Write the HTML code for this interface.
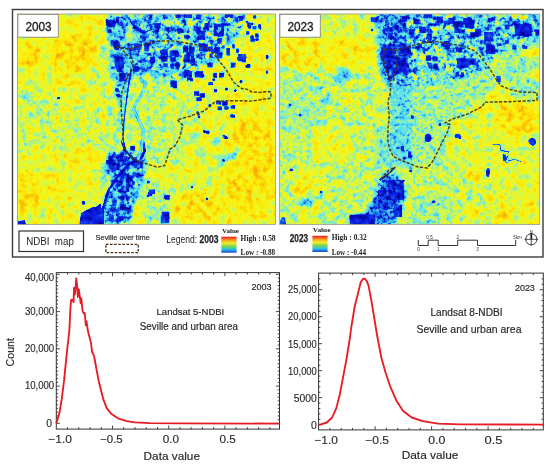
<!DOCTYPE html>
<html><head><meta charset="utf-8">
<style>
html,body{margin:0;padding:0;background:#fff;width:550px;height:467px;overflow:hidden}
svg{display:block}
.sans{font-family:"Liberation Sans",Arial,sans-serif}
.serif{font-family:"Liberation Serif","Times New Roman",serif}
</style></head><body>
<svg width="550" height="467" viewBox="0 0 550 467">
<defs>
<filter id="jetL" filterUnits="userSpaceOnUse" x="17" y="14" width="259" height="211" color-interpolation-filters="sRGB">
  <feColorMatrix in="SourceGraphic" type="matrix" values="1 0 0 0 0  1 0 0 0 0  1 0 0 0 0  0 0 0 0 1" result="base"/>
  <feColorMatrix in="SourceGraphic" type="matrix" values="0 1 0 0 0  0 1 0 0 0  0 1 0 0 0  0 0 0 0 1" result="ampL"/>
  <feColorMatrix in="SourceGraphic" type="matrix" values="0 0 1 0 0  0 0 1 0 0  0 0 1 0 0  0 0 0 0 1" result="ampH"/>
  <feTurbulence type="fractalNoise" baseFrequency="0.15" numOctaves="3" seed="3" result="t1"/>
  <feColorMatrix in="t1" type="matrix" values="1 0 0 0 0  1 0 0 0 0  1 0 0 0 0  0 0 0 0 1" result="n1"/>
  <feTurbulence type="fractalNoise" baseFrequency="0.3" numOctaves="2" seed="14" result="t2"/>
  <feColorMatrix in="t2" type="matrix" values="1 0 0 0 0  1 0 0 0 0  1 0 0 0 0  0 0 0 0 1" result="n2"/>
  <feComposite in="ampL" in2="n1" operator="arithmetic" k1="1.3" k2="-0.65" k3="0" k4="0.5" result="mod1"/>
  <feComposite in="ampH" in2="n2" operator="arithmetic" k1="1.6" k2="-0.8" k3="0" k4="0.5" result="mod2r"/>
  <feComponentTransfer in="mod2r" result="mod2"><feFuncR type="table" tableValues="0 0.5 0.56"/><feFuncG type="table" tableValues="0 0.5 0.56"/><feFuncB type="table" tableValues="0 0.5 0.56"/></feComponentTransfer>
  <feComposite in="base" in2="mod1" operator="arithmetic" k1="0" k2="1" k3="1" k4="-0.5" result="s1"/>
  <feComposite in="s1" in2="mod2" operator="arithmetic" k1="0" k2="1" k3="1" k4="-0.5" result="sum"/>
  <feGaussianBlur in="sum" stdDeviation="0.4" result="sb"/>
  <feComponentTransfer in="sb">
    <feFuncR type="table" tableValues="0.020 0.031 0.039 0.059 0.078 0.118 0.235 0.314 0.373 0.529 0.706 0.855 0.965 0.988 0.988 0.980 0.973 0.941 0.902 0.784 0.588"/>
    <feFuncG type="table" tableValues="0.039 0.059 0.098 0.176 0.294 0.471 0.725 0.843 0.894 0.933 0.953 0.973 0.965 0.918 0.831 0.729 0.612 0.451 0.235 0.078 0.000"/>
    <feFuncB type="table" tableValues="0.588 0.745 0.863 0.894 0.910 0.925 0.933 0.933 0.925 0.765 0.471 0.255 0.086 0.039 0.020 0.020 0.020 0.031 0.039 0.020 0.000"/>
  </feComponentTransfer>
</filter>
<filter id="jetR" filterUnits="userSpaceOnUse" x="279" y="14" width="261" height="211" color-interpolation-filters="sRGB">
  <feColorMatrix in="SourceGraphic" type="matrix" values="1 0 0 0 0  1 0 0 0 0  1 0 0 0 0  0 0 0 0 1" result="base"/>
  <feColorMatrix in="SourceGraphic" type="matrix" values="0 1 0 0 0  0 1 0 0 0  0 1 0 0 0  0 0 0 0 1" result="ampL"/>
  <feColorMatrix in="SourceGraphic" type="matrix" values="0 0 1 0 0  0 0 1 0 0  0 0 1 0 0  0 0 0 0 1" result="ampH"/>
  <feTurbulence type="fractalNoise" baseFrequency="0.15" numOctaves="3" seed="7" result="t1"/>
  <feColorMatrix in="t1" type="matrix" values="1 0 0 0 0  1 0 0 0 0  1 0 0 0 0  0 0 0 0 1" result="n1"/>
  <feTurbulence type="fractalNoise" baseFrequency="0.3" numOctaves="2" seed="18" result="t2"/>
  <feColorMatrix in="t2" type="matrix" values="1 0 0 0 0  1 0 0 0 0  1 0 0 0 0  0 0 0 0 1" result="n2"/>
  <feComposite in="ampL" in2="n1" operator="arithmetic" k1="1.3" k2="-0.65" k3="0" k4="0.5" result="mod1"/>
  <feComposite in="ampH" in2="n2" operator="arithmetic" k1="1.6" k2="-0.8" k3="0" k4="0.5" result="mod2r"/>
  <feComponentTransfer in="mod2r" result="mod2"><feFuncR type="table" tableValues="0 0.5 0.56"/><feFuncG type="table" tableValues="0 0.5 0.56"/><feFuncB type="table" tableValues="0 0.5 0.56"/></feComponentTransfer>
  <feComposite in="base" in2="mod1" operator="arithmetic" k1="0" k2="1" k3="1" k4="-0.5" result="s1"/>
  <feComposite in="s1" in2="mod2" operator="arithmetic" k1="0" k2="1" k3="1" k4="-0.5" result="sum"/>
  <feGaussianBlur in="sum" stdDeviation="0.4" result="sb"/>
  <feComponentTransfer in="sb">
    <feFuncR type="table" tableValues="0.020 0.031 0.039 0.059 0.078 0.118 0.235 0.314 0.373 0.529 0.706 0.855 0.965 0.988 0.988 0.980 0.973 0.941 0.902 0.784 0.588"/>
    <feFuncG type="table" tableValues="0.039 0.059 0.098 0.176 0.294 0.471 0.725 0.843 0.894 0.933 0.953 0.973 0.965 0.918 0.831 0.729 0.612 0.451 0.235 0.078 0.000"/>
    <feFuncB type="table" tableValues="0.588 0.745 0.863 0.894 0.910 0.925 0.933 0.933 0.925 0.765 0.471 0.255 0.086 0.039 0.020 0.020 0.020 0.031 0.039 0.020 0.000"/>
  </feComponentTransfer>
</filter>
<filter id="softblur" x="-20%" y="-20%" width="140%" height="140%" color-interpolation-filters="sRGB"><feGaussianBlur stdDeviation="2.2"/></filter>
<filter id="sharpblur" x="-20%" y="-20%" width="140%" height="140%" color-interpolation-filters="sRGB">
  <feTurbulence type="fractalNoise" baseFrequency="0.12" numOctaves="1" seed="5" result="dn"/>
  <feDisplacementMap in="SourceGraphic" in2="dn" scale="2.5" xChannelSelector="R" yChannelSelector="G" result="dm"/>
  <feGaussianBlur in="dm" stdDeviation="0.35"/>
</filter>
<clipPath id="clipL"><rect x="17.5" y="14" width="258" height="210.5"/></clipPath>
<clipPath id="clipR"><rect x="279.5" y="14" width="260.2" height="210.5"/></clipPath>
<linearGradient id="cbar" x1="0" y1="0" x2="0" y2="1">
  <stop offset="0" stop-color="#e8141c"/>
  <stop offset="0.2" stop-color="#f7941d"/>
  <stop offset="0.4" stop-color="#f5ee2a"/>
  <stop offset="0.6" stop-color="#7fd34e"/>
  <stop offset="0.78" stop-color="#29c5e6"/>
  <stop offset="1" stop-color="#1c3fd6"/>
</linearGradient>
</defs>

<rect x="12.5" y="9.5" width="530.5" height="247.5" fill="#fff" stroke="#3a3a3a" stroke-width="1.4"/>

<g clip-path="url(#clipL)">
<g filter="url(#jetL)">
<rect x="17" y="14" width="259" height="211" fill="rgb(148,76,10)"/>
<g filter="url(#softblur)">
<path d="M55 32 L97 27 L107 42 L105 67 L97 87 L72 92 L55 84 L47 62 L50 42Z" fill="rgb(156,76,19)"/>
<path d="M17 37 L47 37 L47 62 L35 70 L17 65Z" fill="rgb(153,76,19)"/>
<path d="M60 14 L105 14 L105 27 L60 30Z" fill="rgb(153,76,19)"/>
<path d="M17 87 L45 89 L65 102 L90 107 L110 100 L122 110 L122 150 L100 150 L60 150 L17 150Z" fill="rgb(142,76,57)"/>
<path d="M88 45 L108 40 L112 75 L118 100 L100 100 L88 90Z" fill="rgb(142,76,51)"/>
<path d="M90 137 L120 137 L118 187 L100 190 L90 170Z" fill="rgb(138,76,70)"/>
<ellipse cx="27" cy="178" rx="10" ry="7" fill="rgb(160,76,19)"/>
<ellipse cx="23" cy="210" rx="8" ry="9" fill="rgb(162,76,19)"/>
<ellipse cx="52" cy="180" rx="13" ry="7" fill="rgb(157,76,19)"/>
<ellipse cx="60" cy="200" rx="15" ry="10" fill="rgb(155,76,19)"/>
<path d="M126 80 L150 78 L170 82 L175 120 L178 140 L165 160 L130 158 L124 130 L125 100Z" fill="rgb(138,76,64)"/>
<ellipse cx="152" cy="85" rx="8" ry="6" fill="rgb(115,51,89)"/>
<ellipse cx="163" cy="135" rx="6" ry="4" fill="rgb(115,51,89)"/>
<ellipse cx="147" cy="100" rx="4" ry="6" fill="rgb(115,51,89)"/>
<path d="M145 82 L195 88 L200 110 L195 128 L145 128Z" fill="rgb(139,76,64)"/>
<path d="M245 40 L276 40 L276 128 L235 128 L230 100 L240 80Z" fill="rgb(154,76,19)"/>
<path d="M220 130 L276 120 L276 225 L220 225Z" fill="rgb(155,76,19)"/>
<path d="M182 195 L220 195 L220 225 L182 225Z" fill="rgb(155,76,19)"/>
<path d="M145 119 L182 119 L185 150 L175 165 L145 165Z" fill="rgb(136,76,73)"/>
<path d="M170 180 L212 180 L212 203 L170 203Z" fill="rgb(138,76,77)"/>
<ellipse cx="22" cy="150" rx="4" ry="3" fill="rgb(107,51,89)"/>
<ellipse cx="40" cy="112" rx="6" ry="4" fill="rgb(115,51,89)"/>
<ellipse cx="27" cy="95" rx="5" ry="6" fill="rgb(115,51,89)"/>
<ellipse cx="76" cy="52" rx="22" ry="18" fill="rgb(170,76,19)"/>
<ellipse cx="30" cy="55" rx="13" ry="12" fill="rgb(166,76,19)"/>
<ellipse cx="28" cy="195" rx="12" ry="16" fill="rgb(170,76,19)"/>
<ellipse cx="250" cy="165" rx="26" ry="50" fill="rgb(168,76,19)"/>
<ellipse cx="197" cy="205" rx="22" ry="18" fill="rgb(166,76,19)"/>
<ellipse cx="86" cy="158" rx="22" ry="10" fill="rgb(162,76,19)"/>
<ellipse cx="85" cy="20" rx="17" ry="6" fill="rgb(164,76,19)"/>
<ellipse cx="230" cy="157" rx="6" ry="5" fill="rgb(102,51,89)"/>
<ellipse cx="222" cy="163" rx="4" ry="6" fill="rgb(102,51,89)"/>
<ellipse cx="195" cy="136" rx="6" ry="3" fill="rgb(102,51,89)"/>
<ellipse cx="202" cy="152" rx="4" ry="3" fill="rgb(107,51,89)"/>
<ellipse cx="236" cy="152" rx="3" ry="6" fill="rgb(107,51,89)"/>
<ellipse cx="218" cy="140" rx="3" ry="8" fill="rgb(112,51,89)" transform="rotate(40 218 140)"/>
<path d="M106 14 L160 14 L160 78 L152 74 L140 74 L132 77 L127 87 L124.6 99 L123.3 128 L119.6 128 L118.4 107 L116 87 L111 72 L109.6 57 L108.4 37 L104.7 24.5Z" fill="rgb(88,128,145)"/>
<path d="M160 14 L245 14 L245 22 L235 40 L225 45 L215 62 L200 65 L195 72 L180 80 L165 80 L160 78Z" fill="rgb(102,178,145)"/>
<ellipse cx="130" cy="37" rx="5" ry="5" fill="rgb(133,76,57)"/>
<ellipse cx="248" cy="30" rx="6" ry="10" fill="rgb(148,76,25)"/>
<path d="M108 153 L120 150 L132 150 L140 156 L146 160 L145 175 L141 186 L137 198 L132 213 L128 225 L102.8 225 L102.8 209 L108.3 191 L112 183 L106 178 L105 168Z" fill="rgb(76,153,164)"/>
<path d="M145 177 L160 180 L170 200 L172 225 L145 225Z" fill="rgb(133,51,89)"/>
</g>
<g filter="url(#sharpblur)">
<path d="M105.8 20 L112 19.8 L116 22 L115 27 L110 27.5 L106 25Z" fill="rgb(26,76,10)"/>
<rect x="108.9" y="28.9" width="2.6" height="3.9" fill="rgb(26,76,10)"/>
<rect x="116.2" y="17.3" width="2.6" height="5" fill="rgb(26,76,10)"/>
<ellipse cx="116.7" cy="45.2" rx="3.7" ry="5.2" fill="rgb(26,76,10)"/>
<path d="M114.6 56.3 L123.3 57 L124 66 L123 72.3 L117 72 L114.6 64Z" fill="rgb(26,76,10)"/>
<rect x="119.4" y="72.9" width="6.2" height="8.5" fill="rgb(26,76,10)"/>
<rect x="132.8" y="66.1" width="5.6" height="5.5" fill="rgb(26,76,10)"/>
<rect x="134" y="43.4" width="7.7" height="6.5" fill="rgb(43,51,89)"/>
<rect x="144.1" y="43.5" width="5.2" height="7.9" fill="rgb(26,76,10)"/>
<rect x="149.9" y="56.7" width="5.1" height="6.4" fill="rgb(26,76,10)"/>
<rect x="161.4" y="49.4" width="6.2" height="5.3" fill="rgb(26,76,10)"/>
<rect x="169.4" y="50.4" width="6.2" height="6.2" fill="rgb(26,76,10)"/>
<rect x="162.4" y="56.4" width="5.3" height="5.3" fill="rgb(26,76,10)"/>
<rect x="170.4" y="57.3" width="5.3" height="4.4" fill="rgb(26,76,10)"/>
<rect x="163.3" y="63.2" width="4.4" height="3.5" fill="rgb(26,76,10)"/>
<rect x="170.2" y="64.3" width="3.5" height="4.4" fill="rgb(26,76,10)"/>
<rect x="176.2" y="62.4" width="3.5" height="5.3" fill="rgb(26,76,10)"/>
<rect x="154.4" y="23.1" width="6.2" height="5.2" fill="rgb(26,76,10)"/>
<ellipse cx="117" cy="90" rx="2" ry="2" fill="rgb(26,76,10)"/>
<ellipse cx="118.5" cy="95.5" rx="2" ry="2" fill="rgb(26,76,10)"/>
<path d="M129 19.8 L134 26 L138 30 L143.7 33 L149.6 30 L152 27" fill="none" stroke="rgb(26,76,0)" stroke-width="1.6" stroke-linejoin="round" stroke-linecap="round"/>
<rect x="175.3" y="14.3" width="5.1" height="3.9" fill="rgb(26,76,10)"/>
<rect x="184.2" y="14.3" width="7.7" height="3.9" fill="rgb(26,76,10)"/>
<rect x="195.7" y="14.3" width="5.1" height="5.1" fill="rgb(26,76,10)"/>
<rect x="204.3" y="23.1" width="4" height="6.4" fill="rgb(26,76,10)"/>
<rect x="213.7" y="23.6" width="10.2" height="12.8" fill="rgb(26,76,10)"/>
<ellipse cx="219" cy="30" rx="2.5" ry="3" fill="rgb(97,76,57)"/>
<rect x="225.1" y="14.3" width="7.7" height="3.9" fill="rgb(26,76,10)"/>
<rect x="238" y="15.8" width="5.1" height="5.1" fill="rgb(26,76,10)"/>
<rect x="176.9" y="28.9" width="6.3" height="3.9" fill="rgb(26,76,10)"/>
<rect x="184.1" y="34.7" width="5.2" height="3.9" fill="rgb(26,76,10)"/>
<rect x="197.4" y="30.6" width="7.7" height="9" fill="rgb(43,51,89)"/>
<rect x="182.7" y="46.5" width="5.3" height="7" fill="rgb(26,76,10)"/>
<rect x="189.4" y="47.4" width="5.3" height="6.2" fill="rgb(26,76,10)"/>
<rect x="183.4" y="55.5" width="6.2" height="7" fill="rgb(26,76,10)"/>
<rect x="190.8" y="55.5" width="4.4" height="7" fill="rgb(26,76,10)"/>
<rect x="198.9" y="43.5" width="9" height="7.9" fill="rgb(26,76,10)"/>
<rect x="207.4" y="46.4" width="5.3" height="5.3" fill="rgb(26,76,10)"/>
<rect x="214.4" y="47.4" width="5.3" height="5.3" fill="rgb(26,76,10)"/>
<rect x="209.3" y="53.3" width="4.4" height="4.4" fill="rgb(26,76,10)"/>
<rect x="216.2" y="52.4" width="6.3" height="6.3" fill="rgb(26,76,10)"/>
<rect x="175.3" y="50.8" width="3.9" height="6.4" fill="rgb(26,76,10)"/>
<rect x="184.2" y="69.9" width="7.7" height="7.7" fill="rgb(26,76,10)"/>
<rect x="194.6" y="71.2" width="8.8" height="6.4" fill="rgb(26,76,10)"/>
<rect x="207.4" y="62.4" width="5.3" height="5.3" fill="rgb(26,76,10)"/>
<rect x="226.3" y="48" width="3.9" height="7.7" fill="rgb(26,76,10)"/>
<rect x="238.2" y="53.9" width="7.7" height="7.6" fill="rgb(26,76,10)"/>
<rect x="230.7" y="62.4" width="5.1" height="5.3" fill="rgb(26,76,10)"/>
<rect x="245.3" y="63.9" width="5.1" height="3.9" fill="rgb(26,76,10)"/>
<ellipse cx="247" cy="22" rx="1.5" ry="1.5" fill="rgb(26,76,10)"/>
<ellipse cx="252" cy="24" rx="1.5" ry="1.5" fill="rgb(26,76,10)"/>
<ellipse cx="254.6" cy="17" rx="2" ry="2" fill="rgb(26,76,10)"/>
<ellipse cx="259.6" cy="27" rx="2" ry="2" fill="rgb(26,76,10)"/>
<ellipse cx="249.6" cy="27" rx="2" ry="2" fill="rgb(26,76,10)"/>
<ellipse cx="252" cy="37" rx="2" ry="2" fill="rgb(26,76,10)"/>
<ellipse cx="257" cy="39.4" rx="2" ry="1.5" fill="rgb(26,76,10)"/>
<rect x="213.3" y="72.6" width="3.8" height="5.1" fill="rgb(26,76,10)"/>
<rect x="219.1" y="72.6" width="5.2" height="5.1" fill="rgb(26,76,10)"/>
<rect x="247.2" y="22.3" width="3.5" height="4.4" fill="rgb(26,76,10)"/>
<rect x="252.3" y="26.2" width="4.4" height="3.5" fill="rgb(26,76,10)"/>
<rect x="246.2" y="31.2" width="3.5" height="3.5" fill="rgb(26,76,10)"/>
<rect x="255.2" y="33.3" width="3.5" height="4.4" fill="rgb(26,76,10)"/>
<rect x="250.3" y="38.2" width="4.4" height="3.5" fill="rgb(26,76,10)"/>
<rect x="258.2" y="24.2" width="2.6" height="3.5" fill="rgb(26,76,10)"/>
<rect x="232.2" y="44.3" width="2.6" height="4.4" fill="rgb(26,76,10)"/>
<rect x="236.2" y="48.3" width="2.6" height="4.4" fill="rgb(26,76,10)"/>
<rect x="196.4" y="26.5" width="5.3" height="7" fill="rgb(26,76,10)"/>
<rect x="199.3" y="35.3" width="4.4" height="4.4" fill="rgb(26,76,10)"/>
<rect x="217.3" y="38.4" width="4.4" height="5.3" fill="rgb(26,76,10)"/>
<rect x="221.2" y="44.3" width="3.5" height="4.4" fill="rgb(26,76,10)"/>
<ellipse cx="267" cy="57" rx="1.5" ry="2.5" fill="rgb(26,76,10)"/>
<ellipse cx="267" cy="72" rx="1.5" ry="2" fill="rgb(26,76,10)"/>
<rect x="170.4" y="80.4" width="6.4" height="8.1" fill="rgb(26,76,10)"/>
<rect x="186.8" y="78.2" width="6.3" height="3.2" fill="rgb(26,76,10)"/>
<rect x="194" y="91.3" width="5.3" height="4.4" fill="rgb(26,76,10)"/>
<rect x="199.4" y="93.3" width="5.3" height="4.4" fill="rgb(26,76,10)"/>
<rect x="196.4" y="97.3" width="5.3" height="4" fill="rgb(26,76,10)"/>
<rect x="208.3" y="81.8" width="4.9" height="3.3" fill="rgb(26,76,10)"/>
<rect x="213.8" y="89.2" width="3.3" height="3.1" fill="rgb(26,76,10)"/>
<rect x="215.9" y="100.3" width="5.3" height="4.4" fill="rgb(26,76,10)"/>
<rect x="222.4" y="101.3" width="5.3" height="4.4" fill="rgb(26,76,10)"/>
<rect x="217.3" y="106.3" width="4.4" height="4.1" fill="rgb(26,76,10)"/>
<rect x="224.3" y="106.2" width="4.4" height="3.5" fill="rgb(26,76,10)"/>
<rect x="230.3" y="105.2" width="4.8" height="3.5" fill="rgb(26,76,10)"/>
<rect x="230.3" y="114.6" width="4.8" height="3.2" fill="rgb(26,76,10)"/>
<ellipse cx="226.4" cy="89" rx="1.5" ry="1.5" fill="rgb(26,76,10)"/>
<ellipse cx="235.5" cy="90.7" rx="1.5" ry="1.5" fill="rgb(26,76,10)"/>
<ellipse cx="241" cy="81.6" rx="1.5" ry="1.5" fill="rgb(26,76,10)"/>
<ellipse cx="210" cy="105.3" rx="1.5" ry="1.5" fill="rgb(26,76,10)"/>
<ellipse cx="197.3" cy="112.5" rx="1.5" ry="1.5" fill="rgb(26,76,10)"/>
<ellipse cx="199" cy="117" rx="1.5" ry="1.5" fill="rgb(26,76,10)"/>
<ellipse cx="208.2" cy="132.5" rx="1.5" ry="2" fill="rgb(26,76,10)"/>
<ellipse cx="213.6" cy="79.8" rx="1.5" ry="1.5" fill="rgb(26,76,10)"/>
<ellipse cx="206" cy="132" rx="3" ry="1.5" fill="rgb(26,76,10)" transform="rotate(30 206 132)"/>
<ellipse cx="224.7" cy="137" rx="3" ry="1.5" fill="rgb(26,76,10)" transform="rotate(40 224.7 137)"/>
<ellipse cx="232" cy="115.7" rx="2" ry="1.5" fill="rgb(26,76,10)"/>
<ellipse cx="198.5" cy="114.5" rx="1.5" ry="1.5" fill="rgb(26,76,10)"/>
<ellipse cx="223.5" cy="160.6" rx="1.5" ry="1.5" fill="rgb(26,76,10)"/>
<ellipse cx="207" cy="199" rx="1.5" ry="1.5" fill="rgb(26,76,10)"/>
<ellipse cx="192" cy="187" rx="1.2" ry="1.2" fill="rgb(26,76,10)"/>
<ellipse cx="58.6" cy="97.9" rx="1.5" ry="1.2" fill="rgb(26,76,10)"/>
<ellipse cx="83.5" cy="203" rx="2" ry="2" fill="rgb(26,76,10)"/>
<rect x="160.6" y="216.5" width="8.8" height="7" fill="rgb(26,76,10)"/>
<ellipse cx="165" cy="196.7" rx="2" ry="2" fill="rgb(26,76,10)"/>
<ellipse cx="150" cy="194" rx="2.5" ry="2.5" fill="rgb(26,76,10)"/>
<path d="M79 225 L81 212.9 L88.2 209.2 L95.5 205.6 L101 203.8 L102.8 225Z" fill="rgb(26,76,10)"/>
<path d="M17.5 221 L25 220 L26 225 L17.5 225Z" fill="rgb(26,76,10)"/>
<path d="M109 156 L122 154 L128 160 L122 166 L114 172 L109 168Z" fill="rgb(38,102,145)"/>
<path d="M118 182 L128 178 L131 186 L124 192 L116 192Z" fill="rgb(51,128,164)"/>
<rect x="112.3" y="200.4" width="4.4" height="5.3" fill="rgb(26,76,10)"/>
<rect x="120.3" y="205.3" width="4.4" height="4.4" fill="rgb(26,76,10)"/>
<rect x="109.3" y="214.4" width="4.4" height="5.3" fill="rgb(26,76,10)"/>
<rect x="118.4" y="216.3" width="5.3" height="4.4" fill="rgb(26,76,10)"/>
<rect x="126.2" y="196.3" width="3.5" height="4.4" fill="rgb(26,76,10)"/>
<rect x="106.2" y="160.2" width="3.5" height="3.5" fill="rgb(26,76,10)"/>
<rect x="124.2" y="156.2" width="3.5" height="2.6" fill="rgb(26,76,10)"/>
<rect x="132.2" y="181.2" width="2.6" height="3.5" fill="rgb(26,76,10)"/>
<rect x="130.3" y="145.8" width="4.9" height="4.8" fill="rgb(26,76,10)"/>
<rect x="148.7" y="189.3" width="6.4" height="4.9" fill="rgb(43,51,89)"/>
<rect x="165" y="194.9" width="4.7" height="4.8" fill="rgb(26,76,10)"/>
<rect x="161.5" y="211.5" width="7.9" height="7.9" fill="rgb(26,76,10)"/>
<ellipse cx="148.3" cy="181.9" rx="1.5" ry="1.5" fill="rgb(26,76,10)"/>
<path d="M142.9 140 L144.7 151 L141 158.2 L130 163.7 L117.4 176.4 L108.3 191 L102.8 209.2 L102.8 225" fill="none" stroke="rgb(20,76,0)" stroke-width="2.6" stroke-linejoin="round" stroke-linecap="round"/>
<path d="M121 140 L124.6 151 L133.8 158.2 L142.9 156.4 L144.7 147.3 L142.9 140" fill="none" stroke="rgb(26,76,0)" stroke-width="1.2" stroke-linejoin="round" stroke-linecap="round"/>
<path d="M131.2 69.4 L127.7 90.6 L124.1 118.9 L123 137.7 L125.3 149.5 L133.6 161.3" fill="none" stroke="rgb(31,76,0)" stroke-width="1.4" stroke-linejoin="round" stroke-linecap="round"/>
<path d="M140.6 78.8 L145.3 83.6 L143 93 L136 102.4 L133.6 109.5 L138.3 118.9 L143 128.3 L143 137.7 L140.6 149.5 L138.3 159" fill="none" stroke="rgb(76,76,25)" stroke-width="3.2" stroke-linejoin="round" stroke-linecap="round"/>
<path d="M140.6 78.8 L145.3 83.6 L143 93 L136 102.4 L133.6 109.5 L138.3 118.9 L143 128.3 L143 137.7 L140.6 149.5 L138.3 159" fill="none" stroke="rgb(107,76,25)" stroke-width="1.8" stroke-linejoin="round" stroke-linecap="round"/>
</g>
</g>
<path d="M116 47 L129 49 L143.7 44.6 L158 41 L175 41 L186.7 43.2 L198.3 45.3 L208.5 49 L214.4 54.8 L220.2 62.1 L226 69.4 L230.4 76.7 L233.3 82 L237.3 85.3 L242 88.7 L246.6 89.1 L251.7 92 L259 92.4 L269.2 91.6 L271 92 L271 97.8 L269.2 98.5 L262.6 99.3 L256.8 100.4 L249.5 101.1 L242.3 100.7 L228.2 100.7 L215.5 101.6 L204.5 110.7 L190 116.2 L177.3 119.8 L182.7 125.3 L179.9 136.9 L174.9 146 L170 149.1 L168.4 154.6 L164.7 165.5 L157.4 167.3 L146.5 163.7 L139.2 161.9 L132 158.2 L124.6 149.1 L122.8 140 L122.9 128.2 L121.3 111.8 L121 98 L122.1 91.4 L124.7 83.7 L127.3 77.3 L131 70.8 L133.7 65.7 L132.4 59.3 L127.3 55.4 L121 48 L116 47" fill="none" stroke="#4a2f0e" stroke-width="1.45" stroke-dasharray="3.2 1.5" stroke-linejoin="round" opacity="0.92"/>
</g>
<g clip-path="url(#clipR)">
<g filter="url(#jetR)">
<rect x="279" y="14" width="261" height="211" fill="rgb(142,76,57)"/>
<g filter="url(#softblur)">
<path d="M280 37 L376 37 L376 67 L330 70 L280 62Z" fill="rgb(156,76,19)"/>
<ellipse cx="295" cy="47" rx="14" ry="9" fill="rgb(160,76,19)"/>
<ellipse cx="353" cy="56" rx="8" ry="3" fill="rgb(162,76,19)"/>
<path d="M321 16 L376 16 L376 37 L321 37Z" fill="rgb(143,76,57)"/>
<path d="M280 62 L326 65 L330 100 L326 128 L280 128Z" fill="rgb(133,76,80)"/>
<path d="M280 104 L326 104 L326 128 L280 128Z" fill="rgb(128,51,89)"/>
<path d="M326 74 L376 74 L376 128 L326 128Z" fill="rgb(139,76,77)"/>
<path d="M500 37 L541 37 L541 100 L505 100 L500 70Z" fill="rgb(125,51,105)"/>
<ellipse cx="532" cy="53" rx="9" ry="5" fill="rgb(162,76,19)"/>
<ellipse cx="537" cy="75" rx="5" ry="5" fill="rgb(165,76,19)"/>
<path d="M410 74 L460 74 L460 128 L410 128Z" fill="rgb(128,51,105)"/>
<path d="M460 82 L510 82 L510 128 L460 128Z" fill="rgb(152,76,25)"/>
<ellipse cx="469" cy="85" rx="7" ry="3" fill="rgb(162,76,19)"/>
<ellipse cx="471" cy="95" rx="4" ry="3" fill="rgb(162,76,19)"/>
<ellipse cx="507" cy="104" rx="8" ry="7" fill="rgb(162,76,19)"/>
<path d="M510 100 L541 100 L541 128 L510 128Z" fill="rgb(148,76,57)"/>
<path d="M280 128 L376 128 L376 228 L280 228Z" fill="rgb(136,76,77)"/>
<ellipse cx="344" cy="74" rx="5" ry="7" fill="rgb(76,51,89)"/>
<ellipse cx="339" cy="80" rx="3" ry="4" fill="rgb(82,51,89)"/>
<ellipse cx="327" cy="100" rx="4" ry="4" fill="rgb(87,51,89)"/>
<ellipse cx="318" cy="88" rx="3" ry="2" fill="rgb(92,51,89)"/>
<path d="M313 127 L351 127 L351 162 L313 162Z" fill="rgb(148,76,25)"/>
<path d="M291 169 L326 169 L326 192 L291 192Z" fill="rgb(152,76,25)"/>
<path d="M301 204 L316 204 L316 222 L301 222Z" fill="rgb(152,76,25)"/>
<ellipse cx="308" cy="185" rx="5" ry="4" fill="rgb(162,76,19)"/>
<ellipse cx="337" cy="158" rx="4" ry="4" fill="rgb(160,76,19)"/>
<ellipse cx="363" cy="159" rx="3" ry="3" fill="rgb(160,76,19)"/>
<ellipse cx="307" cy="202" rx="6" ry="5" fill="rgb(92,51,105)"/>
<path d="M375.6 127 L413 127 L413 157 L375.6 157Z" fill="rgb(128,51,105)"/>
<path d="M377 140 L395 140 L395 167 L377 167Z" fill="rgb(112,51,89)"/>
<path d="M410 112 L541 112 L541 228 L410 228Z" fill="rgb(147,76,32)"/>
<path d="M410 112 L447 112 L447 172 L410 172Z" fill="rgb(128,51,105)"/>
<path d="M410 165 L490 165 L490 228 L410 228Z" fill="rgb(138,76,73)"/>
<path d="M410 197 L447 197 L447 228 L410 228Z" fill="rgb(128,51,105)"/>
<ellipse cx="476" cy="176" rx="9" ry="8" fill="rgb(162,76,19)"/>
<ellipse cx="517" cy="130" rx="8" ry="6" fill="rgb(162,76,19)"/>
<ellipse cx="505" cy="215" rx="6" ry="8" fill="rgb(163,76,19)"/>
<ellipse cx="473" cy="212" rx="7" ry="8" fill="rgb(160,76,19)"/>
<ellipse cx="302" cy="57" rx="22" ry="14" fill="rgb(162,76,19)"/>
<ellipse cx="350" cy="50" rx="22" ry="9" fill="rgb(161,76,19)"/>
<ellipse cx="518" cy="118" rx="22" ry="18" fill="rgb(169,76,19)"/>
<ellipse cx="475" cy="176" rx="8" ry="6" fill="rgb(169,76,19)"/>
<ellipse cx="505" cy="213" rx="8" ry="8" fill="rgb(169,76,19)"/>
<ellipse cx="490" cy="200" rx="6" ry="5" fill="rgb(164,76,19)"/>
<ellipse cx="530" cy="205" rx="6" ry="9" fill="rgb(166,76,19)"/>
<ellipse cx="470" cy="212" rx="7" ry="7" fill="rgb(166,76,19)"/>
<ellipse cx="321" cy="140" rx="12" ry="8" fill="rgb(151,76,25)"/>
<ellipse cx="348" cy="98" rx="5" ry="5" fill="rgb(154,76,25)"/>
<ellipse cx="300" cy="190" rx="8" ry="6" fill="rgb(166,76,19)"/>
<path d="M395 50 L480 50 L498 84 L470 110 L446 127 L436 156 L412 170 L395 165 L390 140 L393 100Z" fill="rgb(128,51,105)"/>
<path d="M391 74 L410 74 L412 170 L395 165 L390 140Z" fill="rgb(105,51,105)"/>
<path d="M376 14 L410 14 L410 87 L400 87 L388 87 L380.6 74 L375.6 52 L378 37Z" fill="rgb(82,128,145)"/>
<path d="M410 14 L541 14 L541 40 L520 40 L505 45 L495 60 L480 70 L460 78 L440 82 L420 85 L410 87Z" fill="rgb(99,178,145)"/>
<ellipse cx="374" cy="42" rx="5" ry="14" fill="rgb(148,76,25)"/>
<path d="M413 50 L450 50 L450 82 L413 82Z" fill="rgb(117,153,145)"/>
<path d="M380.5 180 L387 172 L396.9 176.4 L404.2 181.9 L406 194.6 L402.4 203.8 L396.9 216.5 L395.1 225 L349.6 225 L349.6 218.3 L364.1 212.9 L371.4 203.8 L376.9 191Z" fill="rgb(66,51,164)"/>
</g>
<g filter="url(#sharpblur)">
<rect x="370.5" y="17.3" width="7.7" height="5" fill="rgb(43,51,89)"/>
<path d="M383 18.4 L406.4 18.4 L406.4 43 L383 43Z" fill="rgb(69,128,145)"/>
<rect x="385.3" y="20.2" width="4.4" height="3.5" fill="rgb(26,76,10)"/>
<rect x="395.2" y="25.3" width="3.5" height="4.4" fill="rgb(26,76,10)"/>
<rect x="388.3" y="33.2" width="4.4" height="3.5" fill="rgb(26,76,10)"/>
<path d="M382 46 L390 43 L398 45 L405 42 L411 44 L411 55 L407 62 L411 70 L406 78 L398 74 L391 79 L386 72 L383 64 L380 56Z" fill="rgb(43,102,145)"/>
<rect x="386.4" y="48.4" width="6.2" height="5.3" fill="rgb(26,76,10)"/>
<rect x="395.7" y="60.7" width="10.6" height="10.6" fill="rgb(26,76,10)"/>
<rect x="400.5" y="47.4" width="7" height="5.3" fill="rgb(26,76,10)"/>
<rect x="425.8" y="55.4" width="5.3" height="5.3" fill="rgb(26,76,10)"/>
<rect x="432.4" y="56.4" width="5.3" height="5.3" fill="rgb(26,76,10)"/>
<rect x="427.4" y="62.4" width="5.3" height="6.2" fill="rgb(26,76,10)"/>
<rect x="433.3" y="63.4" width="4.4" height="5.3" fill="rgb(26,76,10)"/>
<rect x="427.2" y="39.1" width="3.8" height="3.7" fill="rgb(26,76,10)"/>
<rect x="443.4" y="42" width="6.2" height="5.1" fill="rgb(26,76,10)"/>
<rect x="452.7" y="21.4" width="10.8" height="6.2" fill="rgb(26,76,10)"/>
<rect x="475.2" y="28.5" width="6.2" height="7.7" fill="rgb(26,76,10)"/>
<rect x="484.2" y="32.1" width="9.2" height="9.2" fill="rgb(26,76,10)"/>
<rect x="486" y="44.5" width="9.2" height="10.8" fill="rgb(26,76,10)"/>
<rect x="489.3" y="17.7" width="6.2" height="3.1" fill="rgb(26,76,10)"/>
<rect x="514.6" y="23.6" width="17" height="12.3" fill="rgb(26,76,10)"/>
<rect x="463.1" y="17.9" width="9.2" height="6.2" fill="rgb(26,76,10)"/>
<rect x="456.3" y="58.5" width="12.4" height="9.2" fill="rgb(26,76,10)"/>
<rect x="445.3" y="42.4" width="4.7" height="6.2" fill="rgb(26,76,10)"/>
<rect x="455.9" y="47.6" width="6.2" height="4.7" fill="rgb(26,76,10)"/>
<rect x="468.2" y="58.3" width="6.2" height="6.2" fill="rgb(26,76,10)"/>
<rect x="461" y="72.2" width="3.1" height="4.7" fill="rgb(26,76,10)"/>
<rect x="496.2" y="75.8" width="4.6" height="6.2" fill="rgb(43,51,89)"/>
<rect x="504.9" y="24.8" width="4.8" height="4.7" fill="rgb(26,76,10)"/>
<rect x="522.3" y="45.8" width="4.8" height="3" fill="rgb(26,76,10)"/>
<ellipse cx="378" cy="18" rx="2" ry="2" fill="rgb(26,76,10)"/>
<ellipse cx="372" cy="30" rx="1.5" ry="1.5" fill="rgb(26,76,10)"/>
<rect x="401.9" y="16.4" width="5.3" height="5.3" fill="rgb(26,76,10)"/>
<rect x="413.4" y="19.1" width="6.2" height="5.1" fill="rgb(26,76,10)"/>
<rect x="409.1" y="29.4" width="5.3" height="5.3" fill="rgb(26,76,10)"/>
<rect x="419.4" y="26.4" width="6.2" height="6.5" fill="rgb(26,76,10)"/>
<rect x="423.6" y="13.3" width="8.8" height="5.1" fill="rgb(26,76,10)"/>
<rect x="426.4" y="33.8" width="5.3" height="6.2" fill="rgb(26,76,10)"/>
<rect x="436.8" y="16.4" width="6.2" height="6.2" fill="rgb(26,76,10)"/>
<rect x="448.4" y="17.8" width="6.2" height="6.2" fill="rgb(26,76,10)"/>
<rect x="454.2" y="27.9" width="6.2" height="5.3" fill="rgb(26,76,10)"/>
<rect x="464.7" y="20.8" width="9.7" height="7.7" fill="rgb(26,76,10)"/>
<rect x="470.4" y="32.3" width="8.8" height="5" fill="rgb(26,76,10)"/>
<rect x="417.8" y="42.4" width="5.1" height="5.3" fill="rgb(26,76,10)"/>
<rect x="444" y="41" width="5.3" height="5.3" fill="rgb(26,76,10)"/>
<rect x="400.3" y="61.4" width="5.1" height="6.4" fill="rgb(26,76,10)"/>
<rect x="505.2" y="40.2" width="3.5" height="3.5" fill="rgb(26,76,10)"/>
<rect x="512.3" y="45.3" width="4.4" height="4.4" fill="rgb(26,76,10)"/>
<rect x="535.3" y="30.4" width="4.4" height="5.3" fill="rgb(26,76,10)"/>
<path d="M388 180 L404 180 L404 200 L388 200Z" fill="rgb(33,102,145)"/>
<rect x="390.3" y="182.4" width="4.4" height="5.3" fill="rgb(26,76,10)"/>
<rect x="397.4" y="184.3" width="5.3" height="4.4" fill="rgb(26,76,10)"/>
<rect x="392.3" y="192.4" width="4.4" height="5.3" fill="rgb(26,76,10)"/>
<path d="M349.6 214.7 L375 214.7 L375 225 L349.6 225Z" fill="rgb(26,76,10)"/>
<path d="M378 190 L388 190 L388 210 L378 210Z" fill="rgb(41,102,145)"/>
<path d="M394 205 L402 205 L402 217 L394 217Z" fill="rgb(41,102,145)"/>
<rect x="400.8" y="145.8" width="3.2" height="4.8" fill="rgb(26,76,10)"/>
<rect x="395.2" y="145.7" width="3.3" height="3.1" fill="rgb(26,76,10)"/>
<ellipse cx="404.2" cy="158.2" rx="1.5" ry="1.5" fill="rgb(26,76,10)"/>
<rect x="408.1" y="151.4" width="3.2" height="6.3" fill="rgb(26,76,10)"/>
<ellipse cx="411.5" cy="171" rx="1.5" ry="1.5" fill="rgb(26,76,10)"/>
<ellipse cx="291" cy="170" rx="2.5" ry="1.5" fill="rgb(26,76,10)"/>
<ellipse cx="283" cy="222" rx="3" ry="5" fill="rgb(51,51,89)"/>
<ellipse cx="321" cy="192" rx="1.5" ry="1.5" fill="rgb(26,76,10)"/>
<ellipse cx="428" cy="138" rx="3.5" ry="4" fill="rgb(26,76,10)"/>
<ellipse cx="412.5" cy="117" rx="1.5" ry="2" fill="rgb(26,76,10)"/>
<ellipse cx="440" cy="124.5" rx="1.5" ry="1.5" fill="rgb(26,76,10)"/>
<ellipse cx="458" cy="136" rx="3.5" ry="2.5" fill="rgb(26,76,10)"/>
<ellipse cx="532" cy="142" rx="4" ry="4" fill="rgb(26,76,10)"/>
<ellipse cx="488" cy="172" rx="2" ry="4" fill="rgb(26,76,25)"/>
<ellipse cx="504.6" cy="158" rx="2" ry="4" fill="rgb(26,76,25)"/>
<ellipse cx="433.7" cy="201.7" rx="2" ry="1.5" fill="rgb(26,76,10)"/>
<ellipse cx="290" cy="105" rx="1.5" ry="1.5" fill="rgb(26,76,10)"/>
<ellipse cx="300" cy="115" rx="1.5" ry="1.5" fill="rgb(38,76,25)"/>
<path d="M395.5 74.3 L394 100 L393 128 L392 150" fill="none" stroke="rgb(102,76,25)" stroke-width="1.6" stroke-linejoin="round" stroke-linecap="round"/>
<path d="M492 144.4 L499.7 144.4 L501 150.6 L509.6 151.8 L507 158 L504.6 162 L514.6 159.3 L522 162" fill="none" stroke="rgb(38,76,25)" stroke-width="1.0" stroke-linejoin="round" stroke-linecap="round"/>
<path d="M395 167.3 L390 172 L383 178 L380.5 180" fill="none" stroke="rgb(26,76,25)" stroke-width="1.5" stroke-linejoin="round" stroke-linecap="round"/>
</g>
</g>
<path d="M384.6 49 L394.8 50.4 L406.4 47.5 L421 43.2 L437.4 41.4 L445 43 L455.5 44.7 L466 47.3 L474.8 50.8 L480 56.1 L485.4 63.1 L490.6 70.1 L495.9 78.9 L501.1 85.9 L510 89.4 L520.4 92 L537 92.5 L537 100.4 L509.6 101.7 L484.7 102.2 L482.2 106.6 L467.3 114.1 L452.3 119.1 L444.9 122.8 L449.9 124.5 L447.4 132 L440 146.9 L432.4 161.8 L427.4 168 L417.5 166.8 L409.7 163.7 L400.6 160 L393.3 156.4 L389.6 149.1 L387.8 140 L388 128 L389.3 116.6 L388 101.7 L390.6 91.7 L390 80 L386 70 L383 58 L384.6 49" fill="none" stroke="#4a2f0e" stroke-width="1.45" stroke-dasharray="3.2 1.5" stroke-linejoin="round" opacity="0.92"/>
<path d="M394.8 50.4 L397.7 57.7 L396.2 69.4 L393.3 82" fill="none" stroke="#4a2f0e" stroke-width="1.45" stroke-dasharray="3.2 1.5" stroke-linejoin="round" opacity="0.92"/>
<path d="M395 167.3 L392 171 L386 176 L381 179.5 L383 176 L389 170 L395 167.3" fill="none" stroke="#4a2f0e" stroke-width="1.45" stroke-dasharray="3.2 1.5" stroke-linejoin="round" opacity="0.92"/>
</g>
<rect x="17.5" y="14" width="258" height="210.5" fill="none" stroke="#9a9a90" stroke-width="0.8"/>
<rect x="279.5" y="14" width="260.2" height="210.5" fill="none" stroke="#9a9a90" stroke-width="0.8"/>

<rect x="17.9" y="14.4" width="40.4" height="22.8" fill="#fff" stroke="#8a8a80" stroke-width="0.9"/>
<text x="38.5" y="31.2" class="sans" font-size="12.6" fill="#222" stroke="#222" stroke-width="0.35" text-anchor="middle" textLength="26.2" lengthAdjust="spacingAndGlyphs">2003</text>
<rect x="279.9" y="14.4" width="40.4" height="22.8" fill="#fff" stroke="#8a8a80" stroke-width="0.9"/>
<text x="300.5" y="31.2" class="sans" font-size="12.6" fill="#222" stroke="#222" stroke-width="0.35" text-anchor="middle" textLength="26.2" lengthAdjust="spacingAndGlyphs">2023</text>

<rect x="19" y="231" width="64.5" height="20.5" fill="#fff" stroke="#333" stroke-width="1.2"/>
<text x="50" y="245" class="sans" font-size="10" fill="#222" text-anchor="middle" textLength="47.7" lengthAdjust="spacingAndGlyphs">NDBI&#160; map</text>
<text x="122.7" y="240.1" class="sans" font-size="7.6" fill="#2a2a2a" stroke="#2a2a2a" stroke-width="0.2" text-anchor="middle" textLength="54.2" lengthAdjust="spacingAndGlyphs">Seville over time</text>
<rect x="105.9" y="244.3" width="32.3" height="8.4" fill="none" stroke="#4a2e10" stroke-width="1.3" stroke-dasharray="2.6 1.5"/>
<text x="166.3" y="242.8" class="sans" font-size="10" fill="#222" textLength="52.1" lengthAdjust="spacingAndGlyphs">Legend: <tspan font-weight="bold" stroke="#222" stroke-width="0.25">2003</tspan></text>
<text x="230.5" y="233" class="serif" font-size="6.8" font-weight="bold" fill="#222" text-anchor="middle" textLength="17" lengthAdjust="spacingAndGlyphs">Value</text>
<rect x="221.3" y="236.7" width="15.3" height="16" fill="url(#cbar)"/>
<text x="240.6" y="240.5" class="serif" font-size="7.6" font-weight="bold" fill="#222" textLength="35" lengthAdjust="spacingAndGlyphs">High : 0.58</text>
<text x="240.6" y="255.3" class="serif" font-size="7.6" font-weight="bold" fill="#222" textLength="34.5" lengthAdjust="spacingAndGlyphs">Low : -0.88</text>

<text x="289.7" y="242.3" class="sans" font-size="10" font-weight="bold" fill="#222" stroke="#222" stroke-width="0.25" textLength="18.4" lengthAdjust="spacingAndGlyphs">2023</text>
<text x="321.6" y="231.5" class="serif" font-size="6.8" font-weight="bold" fill="#222" text-anchor="middle" textLength="17.7" lengthAdjust="spacingAndGlyphs">Value</text>
<rect x="312.4" y="235.8" width="15.2" height="16.2" fill="url(#cbar)"/>
<text x="331.7" y="239.5" class="serif" font-size="7.6" font-weight="bold" fill="#222" textLength="35" lengthAdjust="spacingAndGlyphs">High : 0.32</text>
<text x="331.7" y="254.8" class="serif" font-size="7.6" font-weight="bold" fill="#222" textLength="34.3" lengthAdjust="spacingAndGlyphs">Low : -0.44</text>

<path d="M418.3 240 V245.5 H428.2 V240.2 H438.2 V245.5 H457.7 V240.2 H477.5 V245.5 H515.7 V240" stroke="#333" stroke-width="1" fill="none"/>
<g class="sans" font-size="4.6" fill="#333" text-anchor="middle">
  <text x="418.5" y="251">0</text>
  <text x="429.5" y="238.8">0.5</text>
  <text x="438.3" y="251">1</text>
  <text x="457.8" y="238.8">2</text>
  <text x="477.6" y="251">3</text>
  <text x="517.5" y="238.8">5km</text>
</g>
<g stroke="#222" fill="none">
  <circle cx="531.3" cy="239.3" r="5.6" stroke-width="0.9"/>
  <path d="M524.5 239.3 H538.1 M531.3 239.3 V245.5" stroke-width="0.8"/>
  <path d="M531.3 233 V239.3" stroke-width="1.8"/>
</g>
<text x="531.3" y="233" class="sans" font-size="4" fill="#222" text-anchor="middle">N</text>

<rect x="56.3" y="272.6" width="223.2" height="156.5" fill="none" stroke="#333" stroke-width="1"/>
<path d="M67.5 429.1V427.1M67.5 272.6V274.6M78.8 429.1V427.1M78.8 272.6V274.6M90 429.1V427.1M90 272.6V274.6M101.3 429.1V427.1M101.3 272.6V274.6M112.5 429.1V425.5M112.5 272.6V276.2M123.7 429.1V427.1M123.7 272.6V274.6M135 429.1V427.1M135 272.6V274.6M146.2 429.1V427.1M146.2 272.6V274.6M157.5 429.1V427.1M157.5 272.6V274.6M168.7 429.1V425.5M168.7 272.6V276.2M179.9 429.1V427.1M179.9 272.6V274.6M191.2 429.1V427.1M191.2 272.6V274.6M202.4 429.1V427.1M202.4 272.6V274.6M213.7 429.1V427.1M213.7 272.6V274.6M224.9 429.1V425.5M224.9 272.6V276.2M236.1 429.1V427.1M236.1 272.6V274.6M247.4 429.1V427.1M247.4 272.6V274.6M258.6 429.1V427.1M258.6 272.6V274.6M269.9 429.1V427.1M269.9 272.6V274.6M56.3 423.3H59.9M279.5 423.3H275.9M56.3 419.6H58.1M279.5 419.6H277.7M56.3 415.9H58.1M279.5 415.9H277.7M56.3 412.1H58.1M279.5 412.1H277.7M56.3 408.4H58.1M279.5 408.4H277.7M56.3 404.7H58.1M279.5 404.7H277.7M56.3 400.9H58.1M279.5 400.9H277.7M56.3 397.2H58.1M279.5 397.2H277.7M56.3 393.5H58.1M279.5 393.5H277.7M56.3 389.8H58.1M279.5 389.8H277.7M56.3 386.1H59.9M279.5 386.1H275.9M56.3 382.3H58.1M279.5 382.3H277.7M56.3 378.6H58.1M279.5 378.6H277.7M56.3 374.9H58.1M279.5 374.9H277.7M56.3 371.2H58.1M279.5 371.2H277.7M56.3 367.4H58.1M279.5 367.4H277.7M56.3 363.7H58.1M279.5 363.7H277.7M56.3 360H58.1M279.5 360H277.7M56.3 356.2H58.1M279.5 356.2H277.7M56.3 352.5H58.1M279.5 352.5H277.7M56.3 348.8H59.9M279.5 348.8H275.9M56.3 345.1H58.1M279.5 345.1H277.7M56.3 341.4H58.1M279.5 341.4H277.7M56.3 337.6H58.1M279.5 337.6H277.7M56.3 333.9H58.1M279.5 333.9H277.7M56.3 330.2H58.1M279.5 330.2H277.7M56.3 326.5H58.1M279.5 326.5H277.7M56.3 322.7H58.1M279.5 322.7H277.7M56.3 319H58.1M279.5 319H277.7M56.3 315.3H58.1M279.5 315.3H277.7M56.3 311.6H59.9M279.5 311.6H275.9M56.3 307.8H58.1M279.5 307.8H277.7M56.3 304.1H58.1M279.5 304.1H277.7M56.3 300.4H58.1M279.5 300.4H277.7M56.3 296.6H58.1M279.5 296.6H277.7M56.3 292.9H58.1M279.5 292.9H277.7M56.3 289.2H58.1M279.5 289.2H277.7M56.3 285.5H58.1M279.5 285.5H277.7M56.3 281.8H58.1M279.5 281.8H277.7M56.3 278H58.1M279.5 278H277.7M56.3 274.3H59.9M279.5 274.3H275.9" stroke="#333" stroke-width="0.9" fill="none"/>
<text x="54.2" y="281.3" class="sans" font-size="10.2" fill="#2a2a2a" stroke="#2a2a2a" stroke-width="0.15" text-anchor="end" textLength="29.3" lengthAdjust="spacingAndGlyphs">40,000</text>
<text x="54.2" y="314.9" class="sans" font-size="10.2" fill="#2a2a2a" stroke="#2a2a2a" stroke-width="0.15" text-anchor="end" textLength="29.3" lengthAdjust="spacingAndGlyphs">30,000</text>
<text x="54.2" y="352.2" class="sans" font-size="10.2" fill="#2a2a2a" stroke="#2a2a2a" stroke-width="0.15" text-anchor="end" textLength="29.3" lengthAdjust="spacingAndGlyphs">20,000</text>
<text x="54.2" y="389.4" class="sans" font-size="10.2" fill="#2a2a2a" stroke="#2a2a2a" stroke-width="0.15" text-anchor="end" textLength="29.3" lengthAdjust="spacingAndGlyphs">10,000</text>
<text x="52.0" y="427.3" class="sans" font-size="10.2" fill="#2a2a2a" stroke="#2a2a2a" stroke-width="0.15" text-anchor="end" textLength="5.8" lengthAdjust="spacingAndGlyphs">0</text>
<text x="48.3" y="442.7" class="sans" font-size="11.6" fill="#2a2a2a" stroke="#2a2a2a" stroke-width="0.15" textLength="23.7" lengthAdjust="spacingAndGlyphs">&#8722;1.0</text>
<text x="100.2" y="442.7" class="sans" font-size="11.6" fill="#2a2a2a" stroke="#2a2a2a" stroke-width="0.15" textLength="22.5" lengthAdjust="spacingAndGlyphs">&#8722;0.5</text>
<text x="162.7" y="442.7" class="sans" font-size="11.6" fill="#2a2a2a" stroke="#2a2a2a" stroke-width="0.15" textLength="16.3" lengthAdjust="spacingAndGlyphs">0.0</text>
<text x="219.5" y="442.7" class="sans" font-size="11.6" fill="#2a2a2a" stroke="#2a2a2a" stroke-width="0.15" textLength="16.3" lengthAdjust="spacingAndGlyphs">0.5</text>
<path d="M56.3 423.3 L57.2 420.5 L59.5 412.6 L61.7 399.2 L64 381.2 L65.8 363.2 L67.4 347.5 L68.5 338.5 L69.4 330 L70.4 308.5 L71.1 300.2 L72.3 299.6 L73.6 302.1 L74 288 L74.9 294.4 L75.6 286.7 L76.2 278.4 L77.1 285.4 L77.9 297 L78.8 289.3 L80.1 298.3 L80.7 303.4 L81.3 298.3 L82.6 311.1 L83.9 313.7 L84.8 313 L85.8 325.2 L86.5 321.4 L87.8 330 L88.7 334 L91 343 L92.1 352 L93.2 354 L94 356 L95 361 L96.6 370 L98.8 381.2 L101 390.2 L103.3 399.2 L106.7 408.1 L111.2 413.8 L117.9 418.3 L126.9 421.2 L135 422.4 L150 423.1 L180 423.4 L279.5 423.6" fill="none" stroke="#e81c24" stroke-width="1.85" stroke-linejoin="round"/>
<text x="143.6" y="459.5" class="sans" font-size="11.7" fill="#2a2a2a" stroke="#2a2a2a" stroke-width="0.18" textLength="56.4" lengthAdjust="spacingAndGlyphs" text-anchor="start">Data value</text>
<text x="190.4" y="315.3" class="sans" font-size="9.6" fill="#2a2a2a" stroke="#2a2a2a" stroke-width="0.18" textLength="67.7" lengthAdjust="spacingAndGlyphs" text-anchor="middle">Landsat 5-NDBI</text>
<text x="188.9" y="329.5" class="sans" font-size="10.4" fill="#2a2a2a" stroke="#2a2a2a" stroke-width="0.18" textLength="98.2" lengthAdjust="spacingAndGlyphs" text-anchor="middle">Seville and urban area</text>
<text x="261.6" y="290.3" class="sans" font-size="8.8" fill="#2a2a2a" stroke="#2a2a2a" stroke-width="0.18" textLength="20.1" lengthAdjust="spacingAndGlyphs" text-anchor="middle">2003</text>
<text x="13.7" y="352.2" class="sans" font-size="10.4" fill="#2a2a2a" stroke="#2a2a2a" stroke-width="0.18" textLength="28.4" lengthAdjust="spacingAndGlyphs" text-anchor="middle" transform="rotate(-90 13.7 352.2)">Count</text>
<rect x="318.6" y="273.1" width="224.7" height="156.8" fill="none" stroke="#333" stroke-width="1"/>
<path d="M329.9 429.9V427.9M329.9 273.1V275.1M341.2 429.9V427.9M341.2 273.1V275.1M352.5 429.9V427.9M352.5 273.1V275.1M363.8 429.9V427.9M363.8 273.1V275.1M375.1 429.9V426.3M375.1 273.1V276.7M386.4 429.9V427.9M386.4 273.1V275.1M397.7 429.9V427.9M397.7 273.1V275.1M409 429.9V427.9M409 273.1V275.1M420.3 429.9V427.9M420.3 273.1V275.1M431.6 429.9V426.3M431.6 273.1V276.7M442.9 429.9V427.9M442.9 273.1V275.1M454.2 429.9V427.9M454.2 273.1V275.1M465.5 429.9V427.9M465.5 273.1V275.1M476.8 429.9V427.9M476.8 273.1V275.1M488.1 429.9V426.3M488.1 273.1V276.7M499.4 429.9V427.9M499.4 273.1V275.1M510.7 429.9V427.9M510.7 273.1V275.1M522 429.9V427.9M522 273.1V275.1M533.3 429.9V427.9M533.3 273.1V275.1M318.6 424.7H322.2M543.3 424.7H539.7M318.6 419.3H320.4M543.3 419.3H541.5M318.6 413.9H320.4M543.3 413.9H541.5M318.6 408.5H320.4M543.3 408.5H541.5M318.6 403.1H320.4M543.3 403.1H541.5M318.6 397.7H322.2M543.3 397.7H539.7M318.6 392.3H320.4M543.3 392.3H541.5M318.6 386.9H320.4M543.3 386.9H541.5M318.6 381.5H320.4M543.3 381.5H541.5M318.6 376.1H320.4M543.3 376.1H541.5M318.6 370.7H322.2M543.3 370.7H539.7M318.6 365.3H320.4M543.3 365.3H541.5M318.6 359.9H320.4M543.3 359.9H541.5M318.6 354.5H320.4M543.3 354.5H541.5M318.6 349.1H320.4M543.3 349.1H541.5M318.6 343.7H322.2M543.3 343.7H539.7M318.6 338.3H320.4M543.3 338.3H541.5M318.6 332.9H320.4M543.3 332.9H541.5M318.6 327.5H320.4M543.3 327.5H541.5M318.6 322.1H320.4M543.3 322.1H541.5M318.6 316.7H322.2M543.3 316.7H539.7M318.6 311.3H320.4M543.3 311.3H541.5M318.6 305.9H320.4M543.3 305.9H541.5M318.6 300.5H320.4M543.3 300.5H541.5M318.6 295.1H320.4M543.3 295.1H541.5M318.6 289.7H322.2M543.3 289.7H539.7M318.6 284.3H320.4M543.3 284.3H541.5M318.6 278.9H320.4M543.3 278.9H541.5" stroke="#333" stroke-width="0.9" fill="none"/>
<text x="316.8" y="292.9" class="sans" font-size="10.2" fill="#2a2a2a" stroke="#2a2a2a" stroke-width="0.15" text-anchor="end" textLength="28.7" lengthAdjust="spacingAndGlyphs">25,000</text>
<text x="316.8" y="320.4" class="sans" font-size="10.2" fill="#2a2a2a" stroke="#2a2a2a" stroke-width="0.15" text-anchor="end" textLength="28.7" lengthAdjust="spacingAndGlyphs">20,000</text>
<text x="316.8" y="347.7" class="sans" font-size="10.2" fill="#2a2a2a" stroke="#2a2a2a" stroke-width="0.15" text-anchor="end" textLength="28.7" lengthAdjust="spacingAndGlyphs">15,000</text>
<text x="316.8" y="375.2" class="sans" font-size="10.2" fill="#2a2a2a" stroke="#2a2a2a" stroke-width="0.15" text-anchor="end" textLength="28.7" lengthAdjust="spacingAndGlyphs">10,000</text>
<text x="316.8" y="402.0" class="sans" font-size="10.2" fill="#2a2a2a" stroke="#2a2a2a" stroke-width="0.15" text-anchor="end" textLength="23.0" lengthAdjust="spacingAndGlyphs">5000</text>
<text x="316.8" y="428.7" class="sans" font-size="10.2" fill="#2a2a2a" stroke="#2a2a2a" stroke-width="0.15" text-anchor="end" textLength="5.8" lengthAdjust="spacingAndGlyphs">0</text>
<text x="314.4" y="443.7" class="sans" font-size="11.6" fill="#2a2a2a" stroke="#2a2a2a" stroke-width="0.15" textLength="23.6" lengthAdjust="spacingAndGlyphs">&#8722;1.0</text>
<text x="365.2" y="443.7" class="sans" font-size="11.6" fill="#2a2a2a" stroke="#2a2a2a" stroke-width="0.15" textLength="23.8" lengthAdjust="spacingAndGlyphs">&#8722;0.5</text>
<text x="428.2" y="443.7" class="sans" font-size="11.6" fill="#2a2a2a" stroke="#2a2a2a" stroke-width="0.15" textLength="17.1" lengthAdjust="spacingAndGlyphs">0.0</text>
<text x="484.5" y="443.7" class="sans" font-size="11.6" fill="#2a2a2a" stroke="#2a2a2a" stroke-width="0.15" textLength="18.0" lengthAdjust="spacingAndGlyphs">0.5</text>
<path d="M318.6 424.7 L320.2 424.6 L326.7 422.5 L332.2 417.5 L336.5 407.6 L339.8 394.5 L343.1 377.1 L346.4 359.6 L349.6 340 L351.4 326.5 L354.8 306 L358.3 292.3 L360.8 282 L362.9 278.9 L364.3 278.6 L365.6 279.6 L366.8 281.1 L368.5 285.4 L371.1 299.1 L373.7 314.5 L376.2 330 L377.6 338 L381.3 357.5 L385.6 372.7 L390 385.8 L396.6 401.1 L403.1 410.9 L411.8 417.5 L422.7 421.2 L438 423.6 L460 424.3 L543.3 424.6" fill="none" stroke="#e81c24" stroke-width="1.85" stroke-linejoin="round"/>
<text x="401.7" y="459.4" class="sans" font-size="11.7" fill="#2a2a2a" stroke="#2a2a2a" stroke-width="0.18" textLength="56.7" lengthAdjust="spacingAndGlyphs" text-anchor="start">Data value</text>
<text x="466.5" y="315.9" class="sans" font-size="10.2" fill="#2a2a2a" stroke="#2a2a2a" stroke-width="0.18" textLength="72.1" lengthAdjust="spacingAndGlyphs" text-anchor="middle">Landsat 8-NDBI</text>
<text x="469.0" y="332.7" class="sans" font-size="11.0" fill="#2a2a2a" stroke="#2a2a2a" stroke-width="0.18" textLength="105.0" lengthAdjust="spacingAndGlyphs" text-anchor="middle">Seville and urban area</text>
<text x="524.9" y="290.5" class="sans" font-size="8.8" fill="#2a2a2a" stroke="#2a2a2a" stroke-width="0.18" textLength="19.9" lengthAdjust="spacingAndGlyphs" text-anchor="middle">2023</text>
</svg>
</body></html>
